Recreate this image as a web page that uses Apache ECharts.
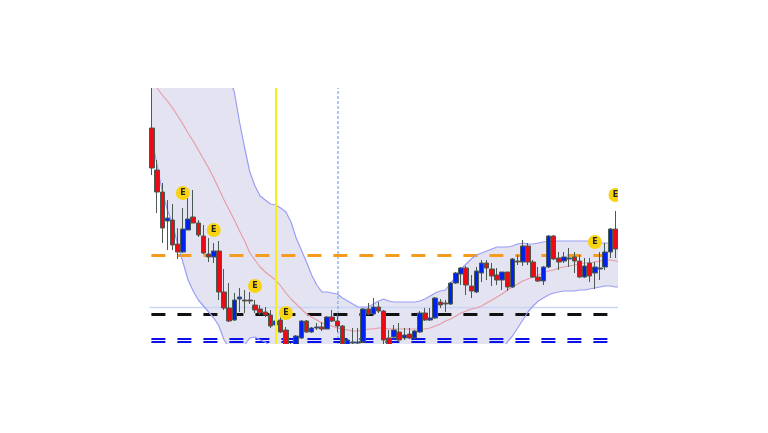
<!DOCTYPE html>
<html>
<head>
<meta charset="utf-8">
<style>
  html, body { margin: 0; padding: 0; background: #fff; }
  #chart { width: 768px; height: 433px; filter: blur(0.4px); }
</style>
<script src="https://cdn.jsdelivr.net/npm/echarts@6/dist/echarts.min.js"></script>
</head>
<body>
<div id="chart"></div>
<script>
const opens = [
  372,330,308,279,280,256,248,270,283,277,
  264,246,243,249,208,192,180,201,200,200,
  195,191,188,185,175,180,170,155,150,162,
  179,168,172,173,171,183,179,174,150,157,
  157,158,191,186,193,189,162,163,168,162,
  166,162,168,187,180,182,198,197,196,217,
  226,232,214,208,227,237,231,225,220,228,
  213,239,238,254,238,223,219,233,264,242,
  239,241,243,239,223,237,227,231,233,248,
  271,240
]
const closes = [
  332,308,272,282,255,248,271,281,277,265,
  247,243,249,208,192,179,200,203,199,199,
  190,187,185,174,179,168,148,140,164,179,
  168,172,173,171,183,179,174,150,160,158,
  158,191,186,193,189,160,155,170,160,165,
  162,169,187,180,182,202,195,196,217,227,
  232,215,209,229,237,232,224,220,228,213,
  241,238,254,238,223,219,233,264,241,238,
  243,242,239,223,234,224,233,232,248,271,
  251,220
]
const lows = [
  325,287,257,250,250,241,247,270,277,263,
  246,238,237,200,190,178,179,188,187,196,
  187,185,183,172,170,167,144,135,146,161,
  167,167,170,169,171,178,168,146,147,152,
  156,157,185,185,187,156,152,160,158,160,
  161,161,167,179,179,181,192,188,195,216,
  215,205,202,207,218,220,214,215,210,209,
  212,235,234,235,222,218,215,232,240,230,
  237,233,227,222,222,218,211,220,230,242,
  242,218
]
const highs = [
  420,340,317,300,296,272,292,302,310,280,
  275,262,257,259,231,217,207,212,210,208,
  200,195,193,190,183,183,173,157,165,180,
  180,173,177,178,184,190,187,175,161,172,
  172,192,197,202,198,190,170,175,177,172,
  172,170,189,192,192,203,201,200,218,228,
  233,234,225,233,240,240,237,232,228,228,
  242,245,260,257,240,233,234,265,265,248,
  248,252,248,245,242,242,238,248,257,272,
  289,242
]
const upperBand = [
  480,478,476,474,472,470,468,464,460,456,
  452,448,444,438,430,422,408,378,352,328,
  314,304,300,296,295,292,288,278,262,250,
  238,225,215,208,208,207,206,202,199,196,
  193,193,193,196,199,201,199,198,198,198,
  198,198,199,201,204,207,209,210,217,223,
  231,236,241,245,247,249,251,253,253,253,
  254,256,257,256,256,257,258,259,259,259,
  259,259,259,259,259,259,258,257,257,257,
  257,257
]
const middleBand = [
  419,412,405,399,392,384,376,367,359,350,
  341,332,322,311,300,290,280,269,259,247,
  240,233,228,224,220,214,207,201,196,191,
  186,183,180,177,175,174,172,171,170,169,
  169,170,171,171,172,172,171,171,171,171,
  171,171,171,171,172,174,176,179,181,184,
  187,189,191,192,194,197,200,203,206,210,
  213,216,219,221,223,225,227,229,230,232,
  233,234,235,236,237,237,238,239,240,240,
  239,238
]
const lowerBand = [
  360,335,308,290,276,255,238,220,209,200,
  194,188,182,174,160,152,148,150,155,162,
  163,160,158,153,148,146,144,142,140,139,
  138,137,136,136,135,135,134,134,134,134,
  134,134,134,134,134,134,134,134,134,135,
  135,135,135,135,136,136,136,137,137,138,
  138,139,140,141,142,143,144,146,148,158,
  164,172,180,188,194,199,202,205,207,208,
  209,209,209,210,210,211,212,213,214,214,
  213,213
]
const eventIndex = [6, 12, 20, 26, 86, 90]
const eventPrice = [307, 270, 214, 187, 258, 305]
const orangeLevel = 245
const blackLevel = 186
const blueLevels = [161.3, 158.7]
const paleLevel = 193
const yellowTime = 24
const blueTime = 36

const categories = opens.map((v, i) => String(i))
const candles = opens.map((v, i) => [v, closes[i], lows[i], highs[i]])
const bandWidth = upperBand.map((v, i) => v - lowerBand[i])
const events = eventIndex.map((v, i) => [v, eventPrice[i]])

function dashed(value, color, width) {
  return {
    yAxis: value,
    lineStyle: { color: color, width: width, type: [14, 12], dashOffset: -2 }
  }
}

const chart = echarts.init(document.getElementById('chart'), null, { renderer: 'canvas' })
chart.setOption({
  animation: false,
  backgroundColor: '#fff',
  grid: { left: 149.4, top: 88, width: 473.8, height: 256 },
  xAxis: { type: 'category', data: categories, show: false, boundaryGap: true },
  yAxis: { type: 'value', min: 156, max: 412, show: false, scale: true },
  series: [
    {
      name: 'lowerBase', type: 'line', stack: 'band', data: lowerBand,
      symbol: 'none', lineStyle: { width: 0 }, z: 0
    },
    {
      name: 'bandFill', type: 'line', stack: 'band', data: bandWidth,
      symbol: 'none', lineStyle: { width: 0 },
      areaStyle: { color: '#e3e3f1', opacity: 1 }, z: 0
    },
    {
      name: 'upper', type: 'line', data: upperBand, symbol: 'none', z: 1,
      lineStyle: { color: '#9a9df6', width: 1.2 }
    },
    {
      name: 'lower', type: 'line', data: lowerBand, symbol: 'none', z: 1,
      lineStyle: { color: '#9a9df6', width: 1.2 }
    },
    {
      name: 'middle', type: 'line', data: middleBand, symbol: 'none', z: 1,
      lineStyle: { color: '#e79aa2', width: 1.1 },
      markLine: {
        silent: true, symbol: 'none', label: { show: false }, z: 1,
        data: [
          { yAxis: paleLevel, lineStyle: { color: '#cbd5f6', width: 1.3, type: 'solid' } },
          { xAxis: blueTime, lineStyle: { color: '#8fb6ee', width: 1.5, type: [3, 2] } },
          dashed(orangeLevel, '#f59c1e', 3),
          dashed(blackLevel, '#111111', 2.8),
          dashed(blueLevels[0], '#0a12e8', 2),
          dashed(blueLevels[1], '#0a12e8', 2)
        ]
      }
    },
    {
      name: 'price', type: 'candlestick', data: candles, barWidth: 5, z: 2,
      itemStyle: {
        color: '#0022ee', color0: '#ee0a14',
        borderColor: '#4a5a50', borderColor0: '#4a5a50', borderWidth: 1
      },
      markLine: {
        silent: true, symbol: 'none', label: { show: false }, z: 4,
        data: [{ xAxis: yellowTime, lineStyle: { color: '#f8ec1a', width: 2, type: 'solid' } }]
      }
    },
    {
      name: 'events', type: 'scatter', data: events, symbolSize: 14, z: 5,
      itemStyle: { color: '#f8d30f', opacity: 1 },
      label: {
        show: true, position: 'inside', formatter: 'E',
        color: '#222', fontSize: 8, fontWeight: 'bold', fontFamily: 'DejaVu Sans'
      }
    }
  ],
  graphic: [
    // the source picture is cut off on these sides, wicks run past the grid
    { type: 'rect', z: 100, shape: { x: 618, y: 70, width: 20, height: 300 }, style: { fill: '#fff' } },
    { type: 'rect', z: 100, shape: { x: 140, y: 60, width: 490, height: 28 }, style: { fill: '#fff' } },
    { type: 'rect', z: 100, shape: { x: 140, y: 344, width: 490, height: 30 }, style: { fill: '#fff' } }
  ]
})
</script>
</body>
</html>
